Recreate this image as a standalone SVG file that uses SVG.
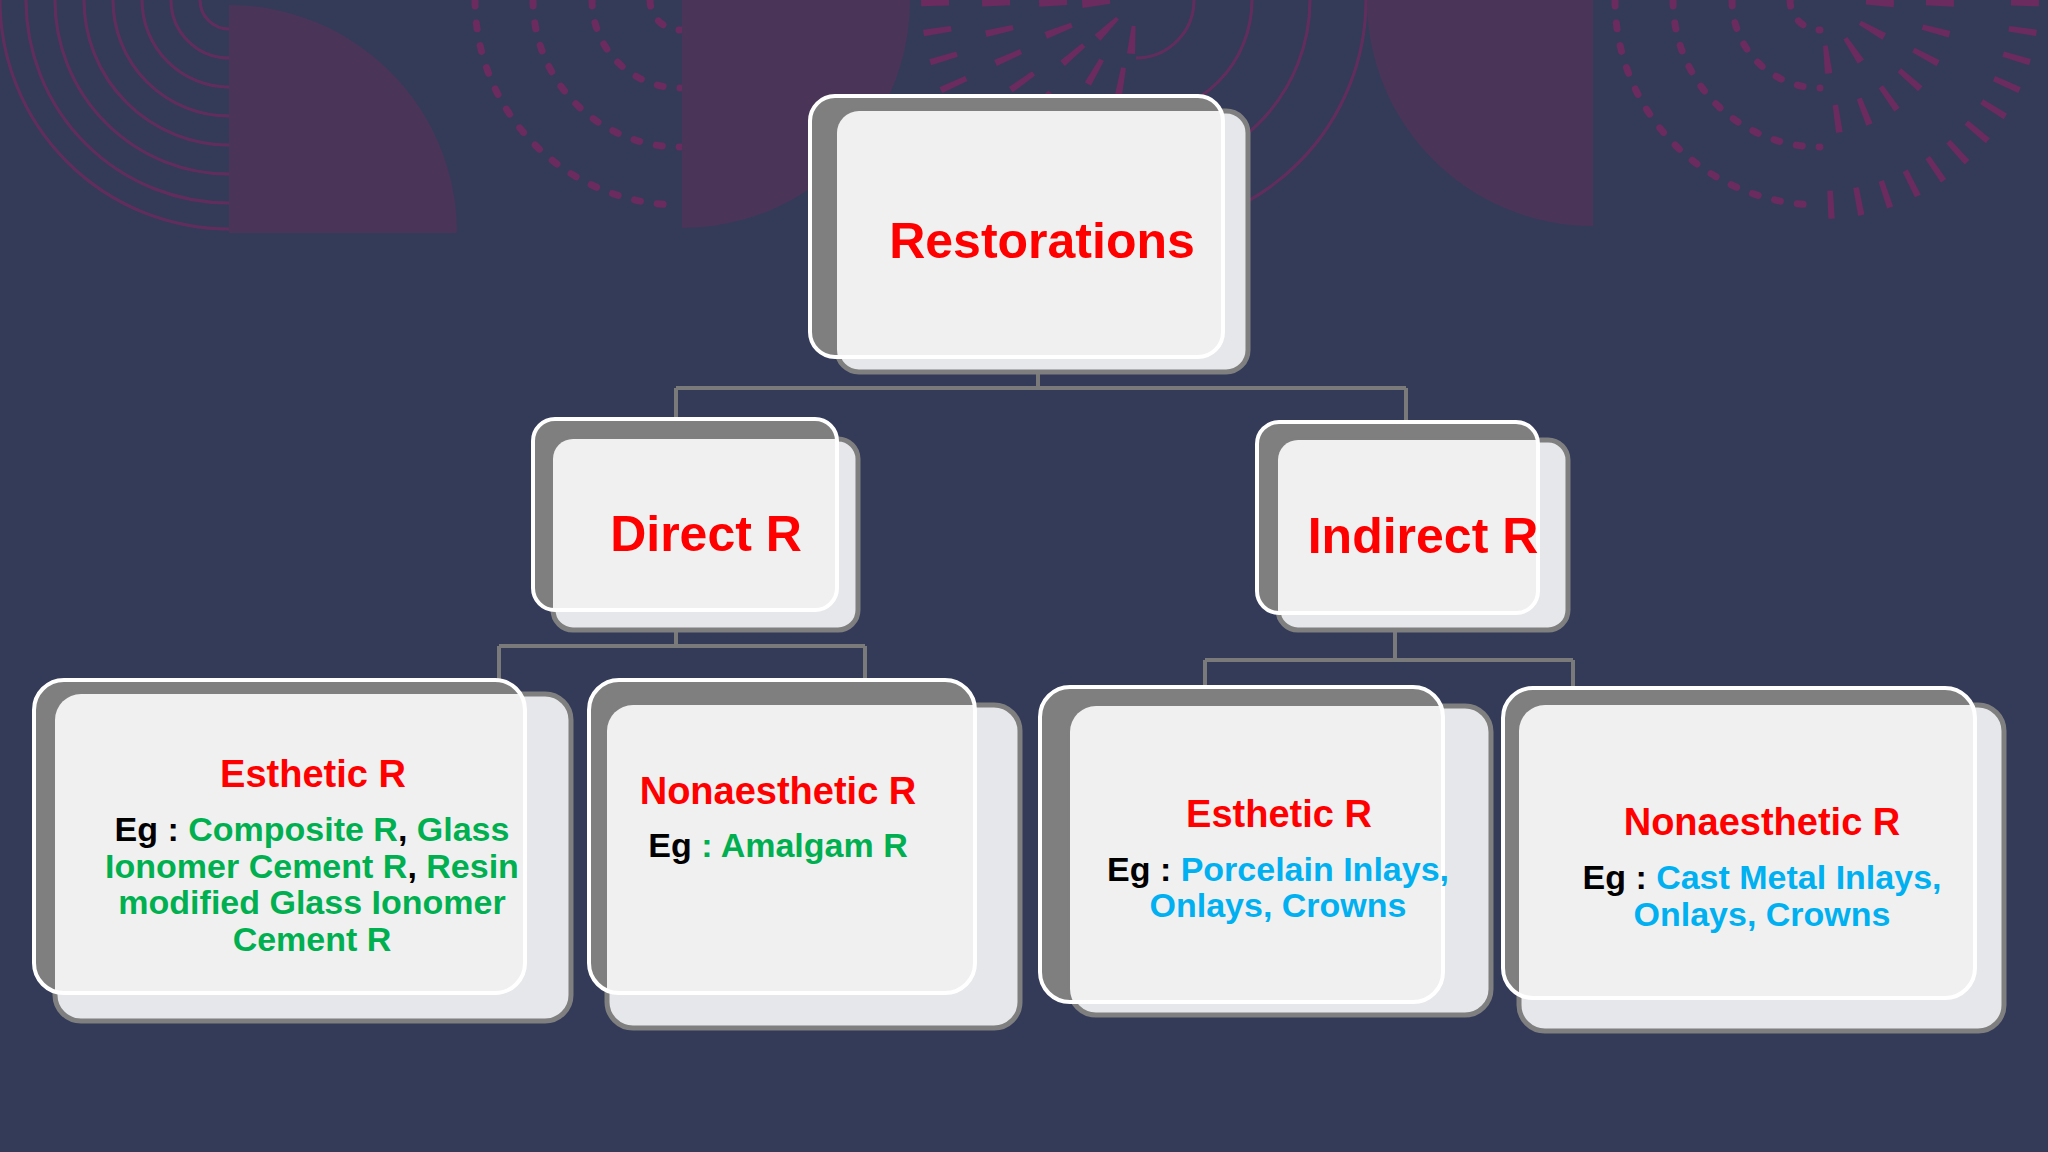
<svg xmlns="http://www.w3.org/2000/svg" width="2048" height="1152" viewBox="0 0 2048 1152">
<style>
.disc{fill:#4a3558}
.arc{fill:none;stroke:#6b2b5e;stroke-width:3;opacity:.85}
.tdash{fill:none;stroke:#6b2b5e;stroke-width:7;stroke-linecap:round;stroke-dasharray:6 17}
.rdash{fill:none;stroke:#6b2b5e;stroke-width:28;stroke-dasharray:6 22}
.back{fill:#7f7f7f}
.front{fill:#e6e7ea;stroke:#7f7f7f;stroke-width:5}
.inner{fill:#f0f0f0}
.outline{fill:none;stroke:#ffffff;stroke-width:4}
.conn{fill:none;stroke:#7a7a7a;stroke-width:4}
text{font-family:"Liberation Sans",Arial,Helvetica,sans-serif;font-weight:bold;text-anchor:middle}
.t1{font-size:50px;fill:#ff0000}
.t2{font-size:38px;fill:#ff0000}
.b{font-size:34px}
.k{fill:#000000}
.g{fill:#00b050}
.bl{fill:#00b0f0}
</style>
<defs>
<clipPath id="c0"><rect x="837" y="111" width="411" height="261" rx="22"/></clipPath>
<clipPath id="c1"><rect x="553" y="439" width="305" height="191" rx="20"/></clipPath>
<clipPath id="c2"><rect x="1278" y="440" width="290" height="190" rx="20"/></clipPath>
<clipPath id="c3"><rect x="55" y="694" width="516" height="327" rx="26"/></clipPath>
<clipPath id="c4"><rect x="607" y="705" width="413" height="323" rx="26"/></clipPath>
<clipPath id="c5"><rect x="1070" y="706" width="421" height="309" rx="26"/></clipPath>
<clipPath id="c6"><rect x="1519" y="705" width="485" height="326" rx="26"/></clipPath>
</defs>
<rect x="0" y="0" width="2048" height="1152" fill="#343b59"/>
<g id="background">
<path class="arc" d="M200,0A29 29 0 0 0 229,29M171,0A58 58 0 0 0 229,58M142,0A87 87 0 0 0 229,87M113,0A116 116 0 0 0 229,116M84,0A145 145 0 0 0 229,145M55,0A174 174 0 0 0 229,174M26,0A203 203 0 0 0 229,203M0,0A229 229 0 0 0 229,229"/>
<path class="disc" d="M229,233L229,5A228 228 0 0 1 457,233Z"/>
<path class="tdash" d="M650,0A30 30 0 0 0 680,30M592,0A88 88 0 0 0 680,88M533,0A147 147 0 0 0 680,147M475,0A205 205 0 0 0 680,205"/>
<path class="disc" d="M682,0L910,0A228 228 0 0 1 682,228Z"/>
<path class="rdash" d="M1096,0A40 40 0 0 0 1136,40M1053,0A83 83 0 0 0 1136,83M996,0A140 140 0 0 0 1136,140M935,0A201 201 0 0 0 1136,201"/>
<path class="arc" d="M1194,0A58 58 0 0 1 1136,58M1252,0A116 116 0 0 1 1136,116M1310,0A174 174 0 0 1 1136,174M1366,0A230 230 0 0 1 1136,230"/>
<path class="disc" d="M1593,0L1593,226A226 226 0 0 1 1367,0Z"/>
<path class="tdash" d="M1790,0A30 30 0 0 0 1820,30M1732,0A88 88 0 0 0 1820,88M1673,0A147 147 0 0 0 1820,147M1615,0A205 205 0 0 0 1820,205"/>
<path class="rdash" d="M1880,0A60 60 0 0 1 1820,60M1940,0A120 120 0 0 1 1820,120M2025,0A205 205 0 0 1 1820,205"/>
</g>
<g id="connectors">
<path class="conn" d="M1038,372V388M676,388H1406M676,388V420M1406,388V423"/>
<path class="conn" d="M676,630V646M499,646H865M499,646V681M865,646V682"/>
<path class="conn" d="M1395,630V660M1205,660H1573M1205,660V689M1573,660V690"/>
</g>
<g id="node-restorations">
<rect class="back" x="810" y="96" width="413" height="261" rx="25"/>
<rect class="front" x="837" y="111" width="411" height="261" rx="22"/>
<rect class="inner" clip-path="url(#c0)" x="810" y="96" width="413" height="261" rx="25"/>
<rect class="outline" x="810" y="96" width="413" height="261" rx="25"/>
<text class="t1" x="1042" y="258">Restorations</text>
</g>
<g id="node-direct">
<rect class="back" x="533" y="419" width="304" height="191" rx="22"/>
<rect class="front" x="553" y="439" width="305" height="191" rx="20"/>
<rect class="inner" clip-path="url(#c1)" x="533" y="419" width="304" height="191" rx="22"/>
<rect class="outline" x="533" y="419" width="304" height="191" rx="22"/>
<text class="t1" x="706" y="551">Direct R</text>
</g>
<g id="node-indirect">
<rect class="back" x="1257" y="422" width="281" height="191" rx="22"/>
<rect class="front" x="1278" y="440" width="290" height="190" rx="20"/>
<rect class="inner" clip-path="url(#c2)" x="1257" y="422" width="281" height="191" rx="22"/>
<rect class="outline" x="1257" y="422" width="281" height="191" rx="22"/>
<text class="t1" x="1423" y="553">Indirect R</text>
</g>
<g id="node-direct-esthetic">
<rect class="back" x="34" y="680" width="491" height="313" rx="30"/>
<rect class="front" x="55" y="694" width="516" height="327" rx="26"/>
<rect class="inner" clip-path="url(#c3)" x="34" y="680" width="491" height="313" rx="30"/>
<rect class="outline" x="34" y="680" width="491" height="313" rx="30"/>
<text class="t2" x="313" y="787">Esthetic R</text>
<text class="b" x="312" y="841"><tspan class="k">Eg : </tspan><tspan class="g">Composite R</tspan><tspan class="k">, </tspan><tspan class="g">Glass</tspan></text>
<text class="b" x="312" y="878"><tspan class="g">Ionomer Cement R</tspan><tspan class="k">, </tspan><tspan class="g">Resin</tspan></text>
<text class="b g" x="312" y="914">modified Glass Ionomer</text>
<text class="b g" x="312" y="951">Cement R</text>
</g>
<g id="node-direct-nonaesthetic">
<rect class="back" x="589" y="680" width="386" height="313" rx="30"/>
<rect class="front" x="607" y="705" width="413" height="323" rx="26"/>
<rect class="inner" clip-path="url(#c4)" x="589" y="680" width="386" height="313" rx="30"/>
<rect class="outline" x="589" y="680" width="386" height="313" rx="30"/>
<text class="t2" x="778" y="804">Nonaesthetic R</text>
<text class="b" x="778" y="857"><tspan class="k">Eg </tspan><tspan class="g">: Amalgam R</tspan></text>
</g>
<g id="node-indirect-esthetic">
<rect class="back" x="1040" y="687" width="403" height="315" rx="30"/>
<rect class="front" x="1070" y="706" width="421" height="309" rx="26"/>
<rect class="inner" clip-path="url(#c5)" x="1040" y="687" width="403" height="315" rx="30"/>
<rect class="outline" x="1040" y="687" width="403" height="315" rx="30"/>
<text class="t2" x="1279" y="827">Esthetic R</text>
<text class="b" x="1278" y="881"><tspan class="k">Eg : </tspan><tspan class="bl">Porcelain Inlays,</tspan></text>
<text class="b bl" x="1278" y="917">Onlays, Crowns</text>
</g>
<g id="node-indirect-nonaesthetic">
<rect class="back" x="1503" y="688" width="472" height="310" rx="30"/>
<rect class="front" x="1519" y="705" width="485" height="326" rx="26"/>
<rect class="inner" clip-path="url(#c6)" x="1503" y="688" width="472" height="310" rx="30"/>
<rect class="outline" x="1503" y="688" width="472" height="310" rx="30"/>
<text class="t2" x="1762" y="835">Nonaesthetic R</text>
<text class="b" x="1762" y="889"><tspan class="k">Eg : </tspan><tspan class="bl">Cast Metal Inlays,</tspan></text>
<text class="b bl" x="1762" y="926">Onlays, Crowns</text>
</g>
</svg>
